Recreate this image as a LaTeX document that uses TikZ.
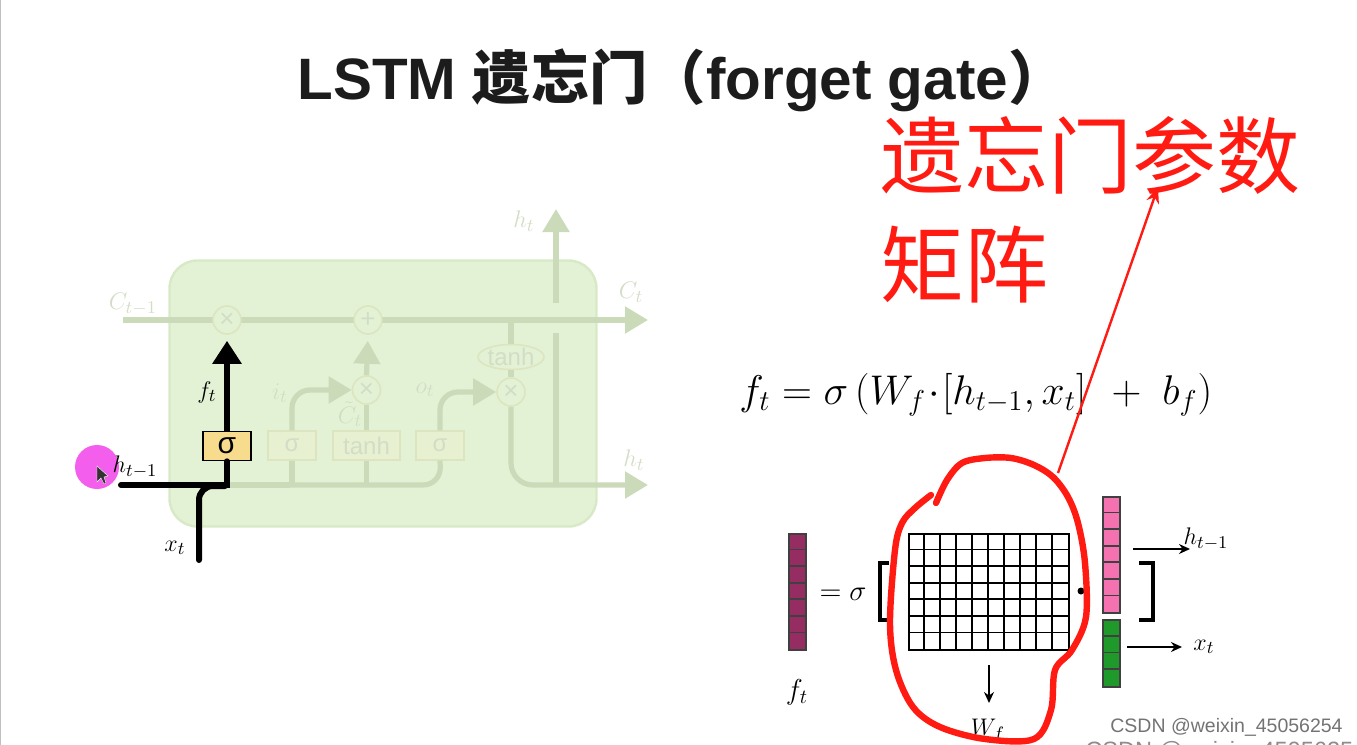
\documentclass[tikz,border=0pt]{standalone}
\usepackage{amsmath}
\usepackage{fontspec}
\setmainfont{Liberation Sans}
\newfontfamily\cjk{Noto Sans CJK SC}
\usetikzlibrary{arrows.meta,shapes.geometric,calc}
\definecolor{boxgreen}{HTML}{E3F2D5}
\definecolor{boxedge}{HTML}{D8E9C7}
\definecolor{faintline}{HTML}{CBDAB9}
\definecolor{fainttext}{HTML}{D3DDC6}
\definecolor{faintfill}{HTML}{E8F0D2}
\definecolor{faintedge}{HTML}{DCE5BF}
\definecolor{gold}{HTML}{F6DC8C}
\definecolor{plum}{HTML}{962D62}
\definecolor{rosepink}{HTML}{F472B0}
\definecolor{leaf}{HTML}{1F9A2A}
\definecolor{magentadot}{HTML}{F35FEC}
\definecolor{titleink}{HTML}{1C1C1C}
\definecolor{inkred}{HTML}{FF1A12}
\tikzset{
  faint/.style={draw=faintline,line width=2.6pt},
  faintarrow/.style={faint,-{Triangle[length=11.5pt,width=13pt]}},
  heavy/.style={draw=black,line width=3pt},
  op/.style={circle,draw=faintedge,fill=boxgreen,line width=.8pt,minimum size=14pt,inner sep=0pt,text=fainttext,font=\fontsize{13}{13}\selectfont},
  gatebox/.style={rectangle,draw=faintedge,fill=faintfill,line width=.7pt,minimum height=14.5pt,inner sep=0pt,text=fainttext,font=\fontsize{12}{12}\selectfont},
  lab/.style={inner sep=0pt,font=\fontsize{13}{13}\selectfont},
  flab/.style={lab,text=fainttext},
  formula/.style={inner sep=0pt,anchor=west,font=\fontsize{22}{24}\selectfont},
  vecbox/.style={rectangle,draw=black!75,line width=.8pt,inner sep=0pt,minimum width=8.7pt},
  thinarrow/.style={draw=black,line width=.8pt,-{Stealth[length=5.5pt,width=5pt]}},
  redtext/.style={inner sep=0pt,anchor=west,text=inkred,font=\cjk\fontsize{42}{42}\selectfont}
}
\begin{document}
\begin{tikzpicture}[x=.5pt,y=-.5pt]
\useasboundingbox (0,0) rectangle (1357,745);
\clip (0,0) rectangle (1357,745);
\draw[black!25,line width=.6pt] (0.5,0) -- (0.5,745);

% title
\node[inner sep=0pt,text=titleink,font=\fontsize{29.2}{29}\selectfont\bfseries] (title) at (682,80)
  {LSTM {\cjk\bfseries 遗忘门（}forget gate{\cjk\bfseries ）}};

% LSTM cell
\node[rectangle,rounded corners=14pt,draw=boxedge,fill=boxgreen,line width=1.2pt,minimum width=213.5pt,minimum height=133pt,inner sep=0pt] (cell) at (383,393.5) {};

\coordinate (cin) at (123,320);
\coordinate (cout) at (648,320);
\coordinate (hin) at (121,485);
\coordinate (hout) at (648,485);
\coordinate (htop) at (556,209);
\coordinate (hgapa) at (556,303);
\coordinate (hgapb) at (556,333);
\coordinate (hjoin) at (556,485);
\coordinate (xin) at (199,560);
\coordinate (hmid) at (227,485);

\draw[faint] (hmid) -- (290,485);
\draw[faintarrow] (cin) -- (cout);
\draw[faintarrow] (hgapa) -- (htop);
\draw[faint] (hgapb) -- (hjoin);

\node[gatebox,minimum width=24pt] (sigb) at (292,445.5) {σ};
\node[gatebox,minimum width=33.5pt] (tanhb) at (366.5,445.5) {tanh};
\node[gatebox,minimum width=24pt] (sigc) at (440,445.5) {σ};
\node[op] (mulf) at (227,320) {×};
\node[op] (add) at (368,320) {+};
\node[op] (muli) at (366.5,390) {×};
\node[op] (mulo) at (511,392) {×};
\node[ellipse,draw=faintedge,fill=boxgreen,line width=.8pt,minimum width=33pt,minimum height=12.5pt,inner sep=0pt,text=fainttext,font=\fontsize{12}{12}\selectfont] (tanhe) at (511,357) {tanh};

\draw[faint] (292,485) -- (sigb.south);
\draw[faint] (366.5,485) -- (tanhb.south);
\draw[faint,rounded corners=9pt] (227,485) -- (441,485) -- (sigc.south);
\draw[faintarrow,rounded corners=9pt] (sigb.north) |- (muli.west);
\draw[faintarrow,rounded corners=9pt] (sigc.north) |- (mulo.west);
\draw[faint] (tanhb.north) -- (muli.south);
\draw[faintarrow,shorten >=3pt] (muli.north) -- (add.south);
\draw[faint] (511,320) -- (tanhe.north);
\draw[faint] (tanhe.south) -- (mulo.north);
\draw[faintarrow,rounded corners=11pt] (mulo.south) |- (hout);

\node[flab] (lcprev) at (133,304) {$C_{t-1}$};
\node[flab] (lhtop) at (524,221) {$h_t$};
\node[flab] (lcout) at (631,292) {$C_t$};
\node[flab] (lit) at (280,393) {$i_t$};
\node[flab] (lct) at (350,414) {$\tilde{C}_t$};
\node[flab] (lot) at (425,390) {$o_t$};
\node[flab] (lhout) at (634,460) {$h_t$};

% highlighted forget path
\node[circle,fill=magentadot,minimum size=22pt,inner sep=0pt] (dot) at (97,467) {};
\fill[black!80,draw=white,line width=.2pt] (97,466) -- (97,482) -- (101,478) -- (104,484) -- (106,483) -- (104,477) -- (108,476) -- cycle;
\node[rectangle,draw=black,fill=gold,line width=.8pt,minimum width=24pt,minimum height=14.5pt,inner sep=0pt,font=\fontsize{15}{15}\selectfont] (sigf) at (227,446) {σ};
\draw[heavy,line cap=round] (hin) -- (hmid) -- (sigf.south);
\draw[heavy,-{Triangle[length=11.5pt,width=14pt]},shorten >=3pt] (sigf.north) -- (mulf.south);
\draw[heavy,line cap=round,rounded corners=7pt] (xin) -- (199,486) -- (225,486);
\node[lab] (lhprev) at (135,467) {$h_{t-1}$};
\node[lab] (lft) at (207,392) {$f_t$};
\node[lab] (lxt) at (175,548) {$x_t$};

% formula
\node[formula] (eqa) at (739,395) {$f_t=\sigma\,(W_f\!\cdot\![h_{t-1},x_t]\mkern7mu+\mkern5mu b_f)$};

% vector and matrix diagram
\node[vecbox,fill=plum,minimum height=58pt,anchor=north west] (fvec) at (788,533) {};
\foreach \k in {1,...,6}{\draw[black!75,line width=.8pt] (788,533+16.57*\k) -- (805.4,533+16.57*\k);}
\node[vecbox,fill=rosepink,minimum height=58pt,anchor=north west] (pvec) at (1102,496) {};
\foreach \k in {1,...,6}{\draw[black!75,line width=.8pt] (1102,496+16.57*\k) -- (1119.4,496+16.57*\k);}
\node[vecbox,fill=leaf,minimum height=33.5pt,anchor=north west] (gvec) at (1102,619) {};
\foreach \k in {1,2,3}{\draw[black!75,line width=.8pt] (1102,619+16.75*\k) -- (1119.4,619+16.75*\k);}

\node[rectangle,draw=black,line width=.9pt,minimum width=80pt,minimum height=58pt,inner sep=0pt,anchor=north west] (grid) at (908,533) {};
\foreach \k in {1,...,9}{\draw[black,line width=.8pt] (908+16*\k,533) -- (908+16*\k,649);}
\foreach \k in {1,...,6}{\draw[black,line width=.8pt] (908,533+16.57*\k) -- (1068,533+16.57*\k);}

\node[lab,font=\fontsize{14.5}{15}\selectfont] (eqs) at (843,594) {$=\sigma$};
\coordinate (brla) at (889,563); \coordinate (brlb) at (889,620);
\draw[black,line width=1.7pt] (brla) -- (880,563) -- (880,620) -- (brlb);
\coordinate (brra) at (1139,563); \coordinate (brrb) at (1139,620);
\draw[black,line width=1.7pt] (brra) -- (1153,563) -- (1153,620) -- (brrb);
\node[circle,fill=black,minimum size=3.5pt,inner sep=0pt] (cdot) at (1081,591) {};

\coordinate (ahs) at (1133,549); \coordinate (ahe) at (1190,549);
\coordinate (xas) at (1127,647); \coordinate (xae) at (1182,647);
\coordinate (was) at (989,665); \coordinate (wae) at (989,703);
\node[lab] (rh) at (1206,539) {$h_{t-1}$};
\node[lab] (rx) at (1204,647) {$x_t$};
\node[lab,font=\fontsize{14}{14}\selectfont] (rf) at (797,692) {$f_t$};
\node[lab] (rw) at (988,731) {$W_f$};
\draw[thinarrow] (ahs) -- (ahe);
\draw[thinarrow] (xas) -- (xae);
\draw[thinarrow] (was) -- (wae);

% red annotation
\draw[inkred,line width=3.2pt,line cap=round,line join=round] plot[smooth,tension=.55] coordinates {(936,503) (947,480) (962,463) (985,458) (1011,458) (1034,465) (1053,477) (1068,497) (1078,523) (1085,563) (1086,617) (1072,650) (1055,670) (1051,710) (1034,739) (985,739) (940,727) (913,707) (896,670) (890,623) (895,550) (902,523) (915,508) (931,495)};
\coordinate (rstart) at (1058,473);
\node[redtext] (rt1) at (880,155) {遗忘门参数};
\node[redtext] (rt2) at (880,265) {矩阵};
\coordinate (rtip) at (1158,187);
\draw[inkred,line width=1.2pt,-{Stealth[length=8pt,width=6.5pt]}] (rstart) -- (rtip);

% watermarks
\node[inner sep=0pt,anchor=west,text=black!55,font=\fontsize{9.75}{10}\selectfont] (wm1) at (1110,727) {CSDN @weixin\_45056254};
\node[inner sep=0pt,anchor=west,text=black!45,font=\fontsize{11.8}{12}\selectfont] (wm2) at (1085,752) {CSDN @weixin\_45056254};
\end{tikzpicture}
\end{document}
